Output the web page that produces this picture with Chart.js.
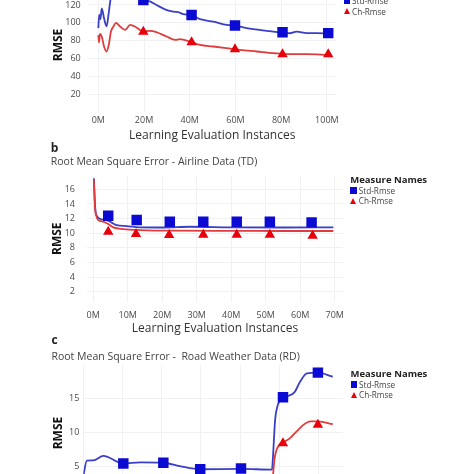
<!DOCTYPE html>
<html>
<head>
<meta charset="utf-8">
<script src="https://cdn.jsdelivr.net/npm/chart.js@4.4.1/dist/chart.umd.min.js"></script>
<style>
  html, body { margin: 0; padding: 0; background: #fff; overflow: hidden; }
  #wrap { position: relative; width: 474px; height: 474px; overflow: hidden; font-family: 'Open Sans', sans-serif; }
  #wrap canvas { position: absolute; left: 0; }
  .lg { position: absolute; white-space: nowrap; }
  .lg .hd { position: absolute; left: 0; font-weight: bold; font-size: 9.5px; color: #222; line-height: 12px; }
  .lg .it { position: absolute; left: 8.5px; font-size: 8.2px; color: #444; line-height: 10px; }
  .lg .sq { position: absolute; left: 0; width: 6.5px; height: 6.5px; background: #0a0ad2; }
  .lg .tr { position: absolute; left: 0; width: 0; height: 0; border-left: 3.8px solid transparent; border-right: 3.8px solid transparent; border-bottom: 6.6px solid #e8000b; }
</style>
</head>
<body>
<div id="wrap">
  <canvas id="rmseA" width="474" height="183" style="top:-40px"></canvas>
  <canvas id="rmseB" width="474" height="195" style="top:141px"></canvas>
  <canvas id="rmseC" width="474" height="199" style="top:333px"></canvas>
</div>
<script>
// panel a (top of the figure is cut off)
const aStdX = [0, 0.4, 0.9, 1.5, 2.5, 3.6, 4.5, 5.1, 5.6, 8, 12, 16, 19.7, 22.5, 25.4, 29.7, 32.8, 35, 37.2, 40.8, 44.5, 50.3, 56.2, 59.8, 64.9, 73.6, 80.9, 83.8, 86.8, 91.2, 95.5, 100.6];
const aStdY = [94, 109, 104, 116, 105, 96, 110, 122, 130, 140, 138, 132, 126, 124, 120, 114.5, 112.5, 112, 109.6, 108.8, 104, 101.4, 97.7, 97, 94, 91, 89, 88.3, 90.2, 88.4, 88.4, 88];
const aChX = [0, 0.3, 0.7, 1.5, 2.5, 3.6, 4.7, 5.5, 6.6, 7.7, 9.5, 11.7, 13.9, 16, 18.2, 19.7, 22.6, 25.5, 29.9, 33.6, 35.7, 40.1, 44.5, 50.3, 56.2, 62, 69.3, 76.5, 83.8, 91.1, 100.6];
const aChY = [86.5, 78, 87.6, 84.6, 73.4, 67.8, 77, 90, 95.8, 100, 95.8, 92, 97.6, 95.8, 92, 90.5, 91, 89.4, 84.6, 80.8, 81.6, 79, 75.2, 73.4, 71.5, 69.6, 67.8, 66, 64.8, 64.8, 64];
const aStdMarkX = [19.7, 40.8, 59.8, 80.6, 100.6];
const aStdMarkY = [125.6, 108.8, 96.9, 89.4, 88.4];
const aChMarkX = [19.7, 40.8, 59.8, 80.6, 100.6];
const aChMarkY = [90, 78.3, 70.4, 64.8, 64.6];

// panel b - Airline Data (TD)
const bStdX = [0.2, 0.5, 0.7, 1.2, 2.4, 3.9, 5.3, 6.8, 9.7, 13.5, 20.5, 28, 40, 55, 69.6];
const bStdY = [17.5, 14.1, 12.9, 12.25, 11.9, 11.8, 11.45, 11.1, 10.98, 10.8, 10.78, 10.88, 10.8, 10.78, 10.8];
const bChX = [0.2, 0.5, 0.8, 1.45, 2.9, 4.35, 5.8, 8.7, 13.5, 23, 40, 55, 69.6];
const bChY = [17.3, 13.6, 12.5, 11.8, 11.57, 11.25, 10.8, 10.57, 10.43, 10.34, 10.32, 10.3, 10.3];
const bStdMarkX = [4.35, 12.6, 22.2, 31.9, 41.6, 51.2, 63.3];
const bStdMarkY = [12.4, 11.8, 11.57, 11.57, 11.57, 11.57, 11.48];
const bChMarkX = [4.35, 12.4, 22, 31.9, 41.6, 51.2, 63.6];
const bChMarkY = [10.2, 9.9, 9.75, 9.8, 9.8, 9.8, 9.65];

// panel c - Road Weather Data (RD), bottom cut off
const cStdX = [0, 0.9, 2.55, 5.1, 10.2, 14.5, 20.4, 24.6, 29.8, 40.2, 48.1, 48.3, 48.9, 49.5, 50.9, 52.3, 53.8, 55.3, 57, 59.8, 63.6];
const cStdY = [3.6, 5.9, 5.95, 6.6, 5.5, 5.65, 5.6, 5.1, 4.65, 4.7, 4.6, 6.0, 11.9, 13.9, 15.2, 15.4, 15.9, 17.5, 18.7, 18.8, 18.2];
const cChX = [48.2, 48.7, 49.4, 51, 52.7, 54.4, 56.1, 57.9, 59.8, 63.6];
const cChY = [2.5, 6.0, 7.7, 8.55, 9.2, 10.2, 11.15, 11.65, 11.65, 11.25];
const cStdMarkX = [10.2, 20.4, 29.8, 40.2, 50.9, 59.8];
const cStdMarkY = [5.5, 5.6, 4.65, 4.75, 15.2, 18.8];
const cChMarkX = [50.9, 59.8];
const cChMarkY = [8.45, 11.15];

const seriesNames = ["Std-Rmse", "Ch-Rmse"];

Chart.defaults.font.family = "'Open Sans', sans-serif";
Chart.defaults.color = "#4a4a4a";

const BLUE_LINE = "#3b3fc6";
const BLUE_MARK = "#0a0ad2";
const RED_LINE = "#e03c3c";
const RED_MARK = "#e8000b";

function pts(xs, ys) {
    return xs.map((x, i) => ({ x: x, y: ys[i] }));
}

function datasets(stdX, stdY, chX, chY, smX, smY, cmX, cmY) {
    return [
        { label: seriesNames[0], data: pts(stdX, stdY), borderColor: BLUE_LINE, borderWidth: 1.8, pointRadius: 0, cubicInterpolationMode: "monotone", order: 3 },
        { label: seriesNames[1], data: pts(chX, chY), borderColor: RED_LINE, borderWidth: 1.8, pointRadius: 0, cubicInterpolationMode: "monotone", order: 2 },
        { label: seriesNames[0], data: pts(smX, smY), showLine: false, pointStyle: "rect", pointRadius: 7.4, backgroundColor: BLUE_MARK, borderColor: BLUE_MARK, borderWidth: 0, order: 1 },
        { label: seriesNames[1], data: pts(cmX, cmY), showLine: false, pointStyle: "triangle", pointRadius: 6, backgroundColor: RED_MARK, borderColor: RED_MARK, borderWidth: 0, order: 0 },
    ];
}

function scales(o) {
    return {
        x: {
            type: "linear",
            min: o.xMin, max: o.xMax,
            grid: { color: "#f1f1f1", drawTicks: false },
            border: { display: false },
            ticks: { stepSize: o.xStep, includeBounds: false, autoSkip: false, maxRotation: 0, padding: o.xPad, font: { size: 9 }, callback: v => v + "M" },
            title: { display: true, text: "Learning Evaluation Instances", color: "#333", font: { size: 12 }, padding: 0 },
            afterFit: s => { s.height = o.xH; },
        },
        y: {
            min: o.yMin, max: o.yMax,
            grid: { color: "#f1f1f1", drawTicks: false },
            border: { display: false },
            ticks: { stepSize: o.yStep, includeBounds: false, autoSkip: false, padding: o.yPad, font: { size: 9 } },
            title: { display: true, text: "RMSE", color: "#111", font: { size: 12, weight: "bold" }, padding: 0 },
            afterFit: s => { s.width = o.yW; },
        },
    };
}

function titles(letter, text, padTop, padBottom) {
    return {
        legend: { display: false },
        tooltip: { enabled: false },
        title: { display: !!letter, text: letter, align: "start", color: "#222", font: { size: 12, weight: "bold" }, padding: 0 },
        subtitle: { display: !!text, text: text, align: "start", color: "#444", font: { size: 10.5 }, padding: { top: padTop, bottom: padBottom } },
    };
}

new Chart(document.getElementById("rmseA"), {
    type: "line",
    data: { datasets: datasets(aStdX, aStdY, aChX, aChY, aStdMarkX, aStdMarkY, aChMarkX, aChMarkY) },
    options: {
        responsive: false,
        animation: false,
        layout: { padding: { top: 18.2, left: 51.8, right: 138, bottom: 0 } },
        plugins: titles("", "", 0, 0),
        scales: scales({ xMin: -4.3, xMax: 104, xStep: 20, xPad: 3.6, xH: 31.2, yMin: 0.2, yMax: 150, yStep: 20, yPad: 7.8, yW: 36.7 }),
    },
});

new Chart(document.getElementById("rmseB"), {
    type: "line",
    data: { datasets: datasets(bStdX, bStdY, bChX, bChY, bStdMarkX, bStdMarkY, bChMarkX, bChMarkY) },
    options: {
        responsive: false,
        animation: false,
        layout: { padding: { top: 0, left: 50.8, right: 131, bottom: 0 } },
        plugins: titles("b", "Root Mean Square Error - Airline Data (TD)", 0.6, 7.2),
        scales: scales({ xMin: -1.8, xMax: 72.4, xStep: 10, xPad: 8, xH: 34.3, yMin: 0.63, yMax: 17.85, yStep: 2, yPad: 12, yW: 36.2 }),
    },
});

new Chart(document.getElementById("rmseC"), {
    type: "line",
    data: { datasets: datasets(cStdX, cStdY, cChX, cChY, cStdMarkX, cStdMarkY, cChMarkX, cChMarkY) },
    options: {
        responsive: false,
        animation: false,
        layout: { padding: { top: 0, left: 51.5, right: 131, bottom: 0 } },
        plugins: titles("c", "Root Mean Square Error -  Road Weather Data (RD)", 3.3, 1.8),
        scales: scales({ xMin: 0, xMax: 66.2, xStep: 10, xPad: 6, xH: 31, yMin: 0, yMax: 19.9, yStep: 5, yPad: 4, yW: 31.8 }),
    },
});

// html legends, one per panel (Tableau style "Measure Names")
function legend(left, top) {
    const box = document.createElement("div");
    box.className = "lg";
    box.style.left = left + "px";
    box.style.top = top + "px";
    box.innerHTML =
        '<div class="hd" style="top:0">Measure Names</div>' +
        '<div class="sq" style="top:13px"></div><div class="it" style="top:11.5px">' + seriesNames[0] + '</div>' +
        '<div class="tr" style="top:23.5px"></div><div class="it" style="top:22px">' + seriesNames[1] + '</div>';
    document.getElementById("wrap").appendChild(box);
}
legend(343.5, -15.5);
legend(350.3, 174);
legend(350.5, 368.3);
</script>
</body>
</html>
